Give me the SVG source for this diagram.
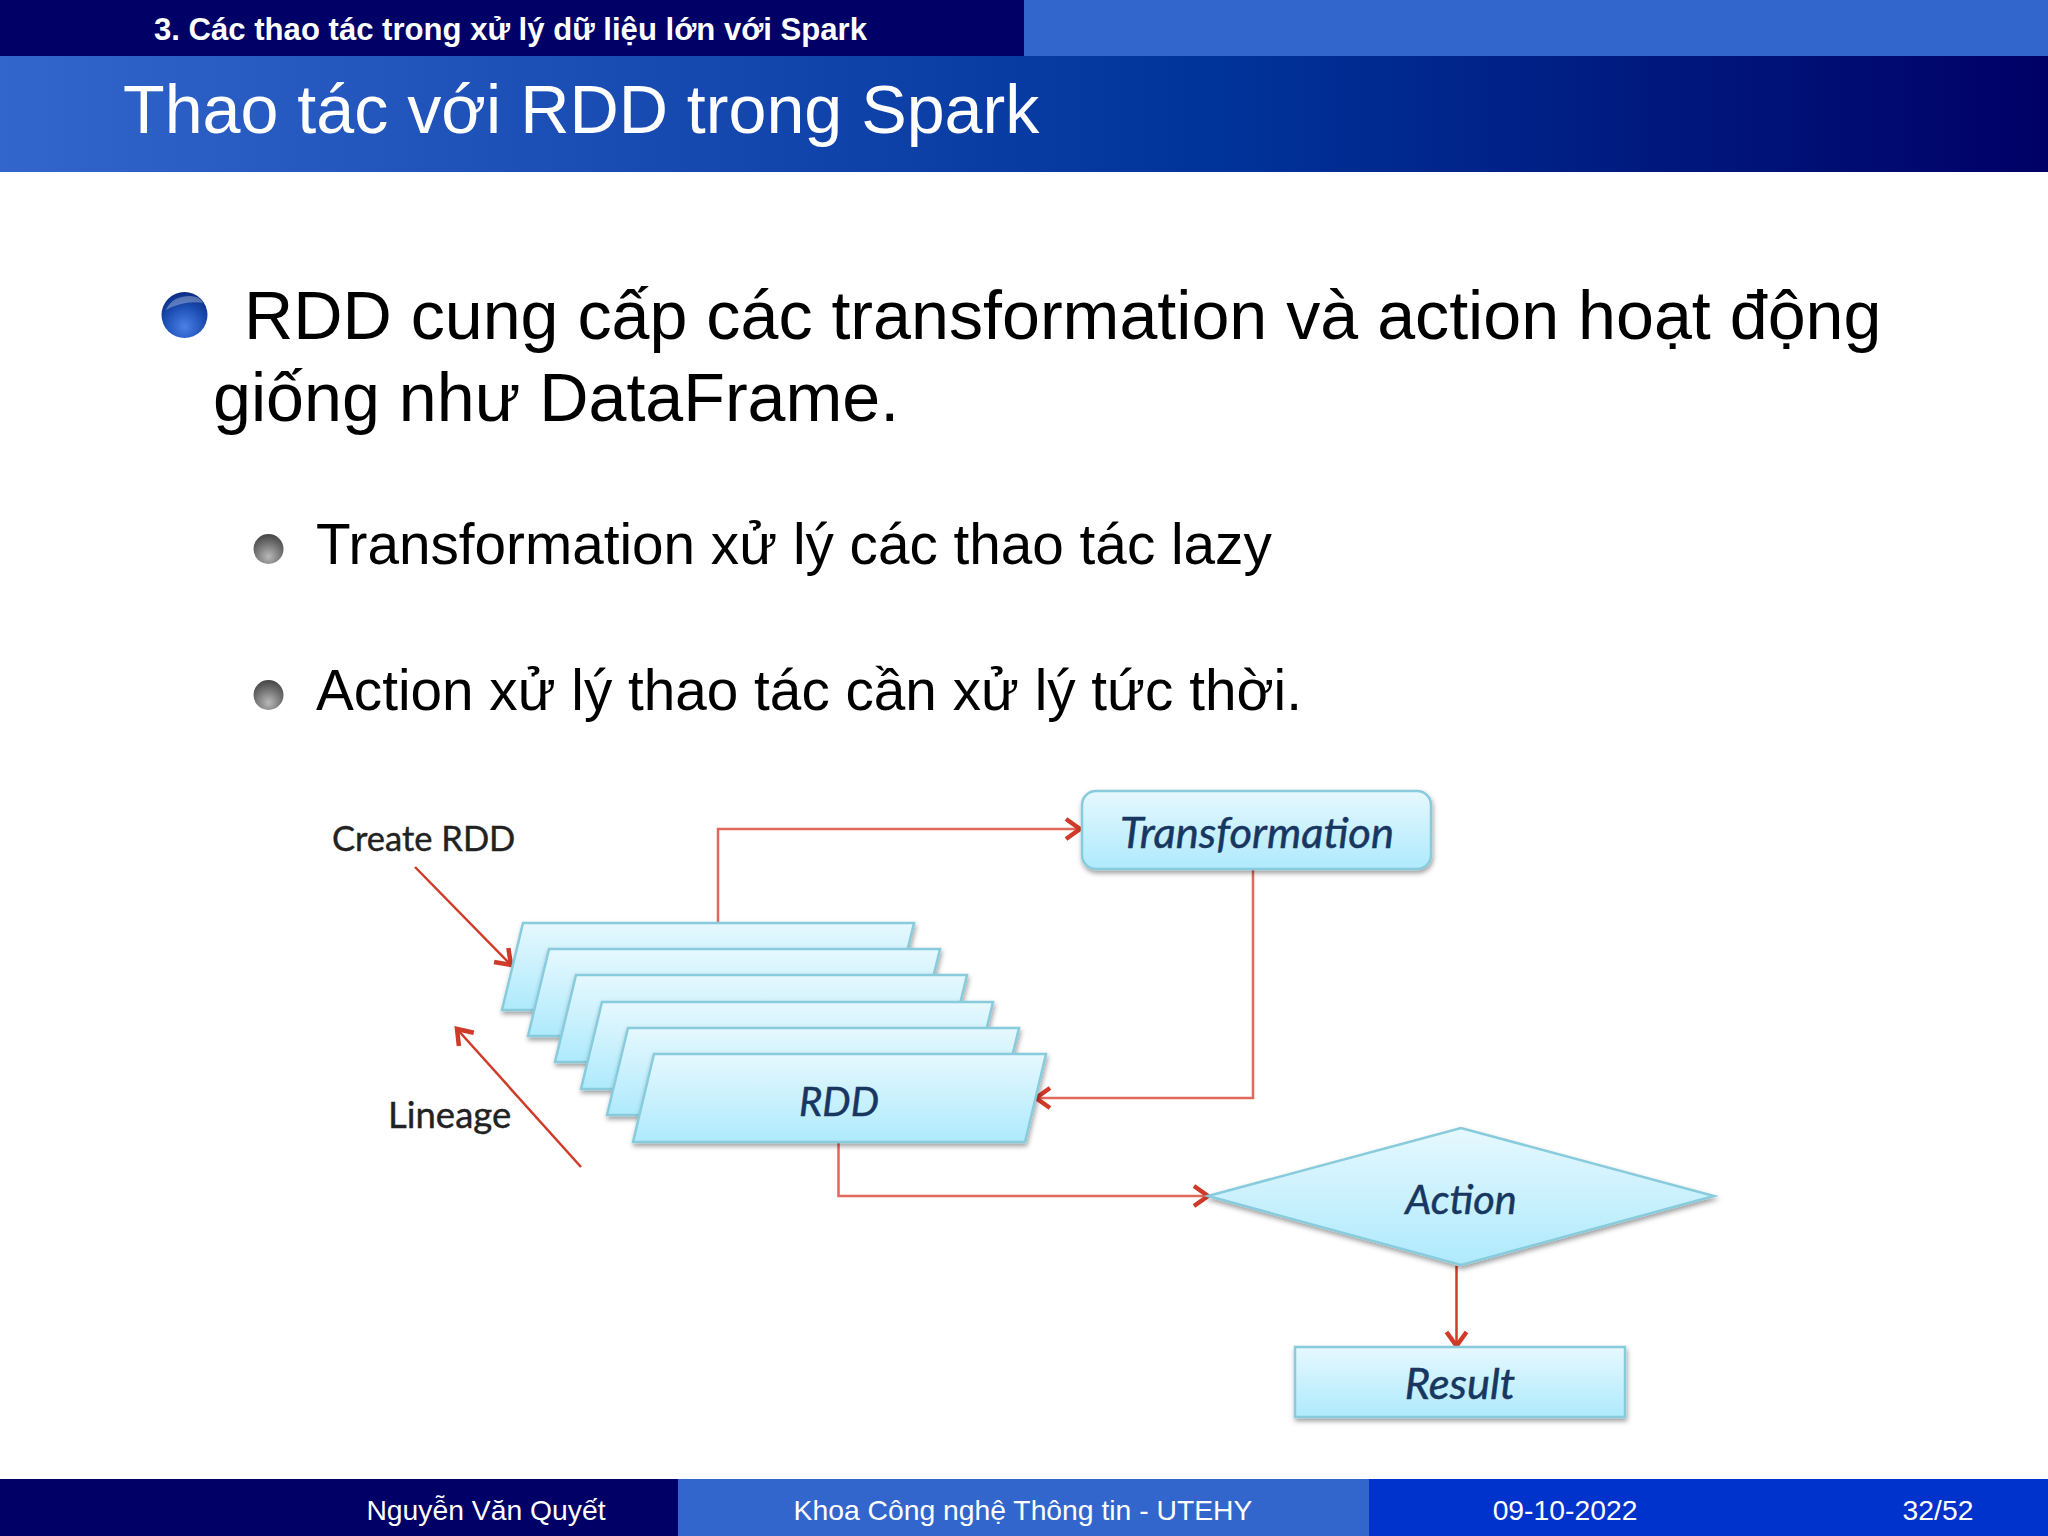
<svg xmlns="http://www.w3.org/2000/svg" width="2048" height="1536" viewBox="0 0 2048 1536">
<style>
.a{font-family:"Liberation Sans",Arial,sans-serif}
.h{font-size:31.100px;font-weight:700;fill:#fff}
.t{font-size:68.200px;fill:#fff}
.b{font-size:68.200px;fill:#000}
.s{font-size:56.700px;fill:#000}
.f{font-size:28.300px;fill:#fff;text-anchor:middle}
.n{font-family:Lato,"Open Sans",sans-serif;font-style:italic;font-size:40px;fill:#173660;stroke:#173660;stroke-width:.5;text-anchor:middle}
.l{font-family:Lato,"Open Sans",sans-serif;font-size:34.500px;fill:#222;stroke:#222;stroke-width:.4}
.sh{fill:url(#node);stroke:#88cbdc;stroke-width:2.500;filter:url(#shadow)}
.c{fill:none;stroke:#e0685c;stroke-width:2.500}
.d{fill:none;stroke:#d03a28;stroke-width:2.500}
</style>
<defs>
<linearGradient id="band" x1="0" x2="1" y1="0" y2="0"><stop offset="0" stop-color="#3366cc"/><stop offset=".6" stop-color="#003399"/><stop offset="1" stop-color="#000066"/></linearGradient>
<linearGradient id="node" x1="0" x2="0" y1="0" y2="1"><stop offset="0" stop-color="#e6f8fe"/><stop offset="1" stop-color="#aeeafc"/></linearGradient>
<radialGradient id="blue" cx=".5" cy=".75" r=".75"><stop offset="0" stop-color="#4c80e8"/><stop offset=".6" stop-color="#1a4cb0"/><stop offset="1" stop-color="#0a2a80"/></radialGradient>
<radialGradient id="gray" cx=".5" cy=".75" r=".75"><stop offset="0" stop-color="#b8b8b8"/><stop offset=".6" stop-color="#707070"/><stop offset="1" stop-color="#444"/></radialGradient>
<filter id="shadow" x="-5%" y="-10%" width="110%" height="125%"><feDropShadow dx="1" dy="3" stdDeviation="2.500" flood-color="#000" flood-opacity=".38"/></filter>
<marker id="arr" markerUnits="userSpaceOnUse" markerWidth="26" markerHeight="28" refX="21" refY="14" orient="auto"><path d="M7 4L21 14L7 24" fill="none" stroke="#d03a28" stroke-width="4.500"/></marker>
</defs>
<rect width="2048" height="1536" fill="#fff"/>
<g id="header">
<rect width="2048" height="56" fill="#3366cc"/>
<rect width="1024" height="56" fill="#000066"/>
<rect y="56" width="2048" height="116" fill="url(#band)"/>
<text class="a h" x="154" y="40">3. Các thao tác trong xử lý dữ liệu lớn với Spark</text>
<text class="a t" x="123" y="133">Thao tác với RDD trong Spark</text>
</g>
<g id="bullets">
<circle cx="184.500" cy="315" r="23" fill="url(#blue)"/>
<path d="M166 310Q172 296 190 296Q200 296 203 303Q184 300 166 310Z" fill="#fff" opacity=".3"/>
<text class="a b" x="244" y="339">RDD cung cấp các transformation và action hoạt động</text>
<text class="a b" x="213" y="421">giống như DataFrame.</text>
<circle cx="268.500" cy="549" r="15" fill="url(#gray)"/>
<text class="a s" x="316" y="564">Transformation xử lý các thao tác lazy</text>
<circle cx="268.500" cy="695" r="15" fill="url(#gray)"/>
<text class="a s" x="316" y="710">Action xử lý thao tác cần xử lý tức thời.</text>
</g>
<g id="connectors">
<path class="c" d="M718 923V829H1080" marker-end="url(#arr)"/>
<path class="c" d="M1253 868V1098H1036" marker-end="url(#arr)"/>
<path class="c" d="M838.500 1141V1196H1208" marker-end="url(#arr)"/>
<path class="d" d="M1456.500 1266V1346" marker-end="url(#arr)"/>
<path class="d" d="M415 867L511 965" marker-end="url(#arr)"/>
<path class="d" d="M581 1167L457 1029" marker-end="url(#arr)"/>
</g>
<g id="rdd-stack">
<path class="sh" d="M523 923H914L893 1010H502Z"/>
<path class="sh" d="M549 949H940L919 1036H528Z"/>
<path class="sh" d="M576 975H967L946 1062H555Z"/>
<path class="sh" d="M602 1002H993L972 1089H581Z"/>
<path class="sh" d="M628 1028H1019L998 1115H607Z"/>
<path class="sh" d="M654 1054H1046L1025 1142H633Z"/>
<text class="n" x="839" y="1116">RDD</text>
</g>
<g id="transformation">
<rect class="sh" x="1082" y="791" width="349" height="78" rx="14"/>
<text class="n" x="1257" y="848" style="font-size:43.500px">Transformation</text>
</g>
<g id="action">
<path class="sh" d="M1208 1196L1461 1128L1714 1196L1461 1265Z"/>
<text class="n" x="1461" y="1214" style="font-size:41.500px">Action</text>
</g>
<g id="result">
<rect class="sh" x="1295" y="1347" width="330" height="70"/>
<text class="n" x="1460" y="1399" style="font-size:43.500px">Result</text>
</g>
<g id="labels">
<text class="l" x="332" y="851">Create RDD</text>
<text class="l" x="388" y="1128" style="font-size:36.500px">Lineage</text>
</g>
<g id="footer">
<rect y="1479" width="678" height="57" fill="#000066"/>
<rect x="678" y="1479" width="691" height="57" fill="#3366cc"/>
<rect x="1369" y="1479" width="679" height="57" fill="#0033cc"/>
<text class="a f" x="486" y="1520">Nguyễn Văn Quyết</text>
<text class="a f" x="1023" y="1520">Khoa Công nghệ Thông tin - UTEHY</text>
<text class="a f" x="1565" y="1520">09-10-2022</text>
<text class="a f" x="1938" y="1520">32/52</text>
</g>
</svg>
